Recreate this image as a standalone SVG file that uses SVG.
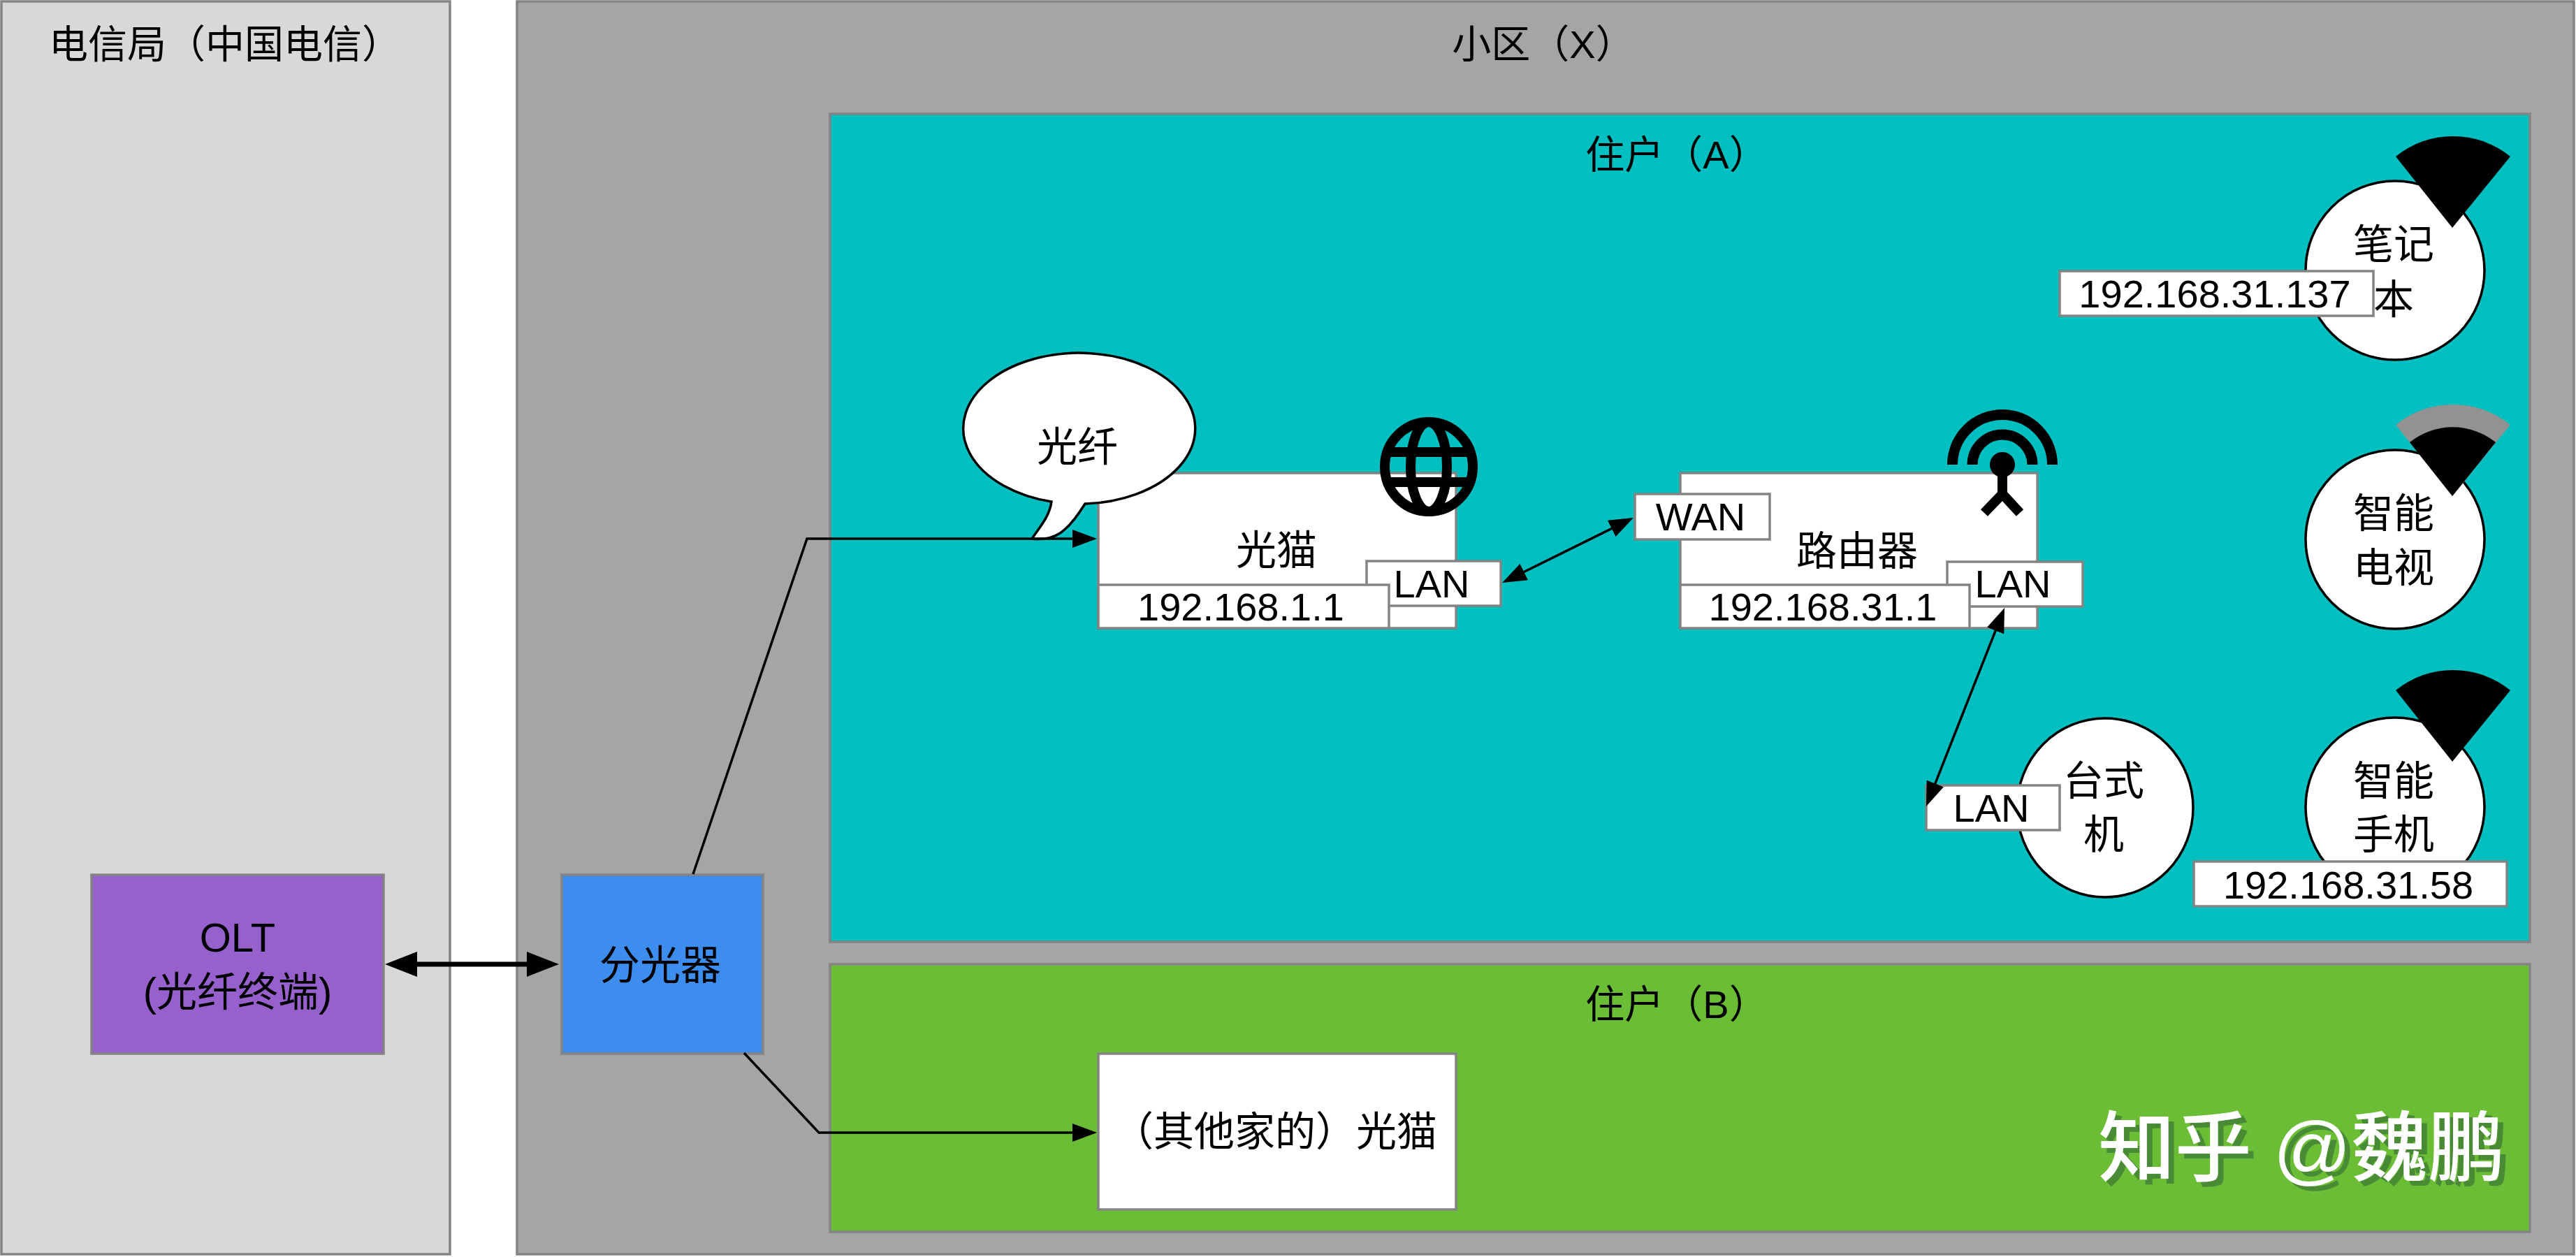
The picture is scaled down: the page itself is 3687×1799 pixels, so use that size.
<svg xmlns="http://www.w3.org/2000/svg" width="3687" height="1799" viewBox="0 0 3687 1799">
<style>
text{font-family:"Liberation Sans","Noto Sans CJK SC",sans-serif;font-size:58px;fill:#000;text-anchor:middle}
.l{font-size:56px}
.b{stroke:#848484;stroke-width:3.5}
.w{fill:#fff;stroke:#848484;stroke-width:3.5}
.e{fill:#fff;stroke:#000;stroke-width:3.5}
.c{fill:none;stroke:#000;stroke-width:3.5}
.arr{marker-end:url(#h)}
.k{fill:#000;stroke:none}
</style>
<defs>
<marker id="h" markerUnits="userSpaceOnUse" markerWidth="36" markerHeight="26" refX="30" refY="13" orient="auto-start-reverse"><path d="M0 0L35 13L0 26Z" fill="#000"/></marker>
<marker id="t" markerUnits="userSpaceOnUse" markerWidth="48" markerHeight="36" refX="36" refY="18" orient="auto-start-reverse"><path d="M0 0L46 18L0 36Z" fill="#000"/></marker>
<filter id="sh" x="-5%" y="-20%" width="110%" height="140%"><feDropShadow dx="8" dy="7" stdDeviation="0" flood-color="#4a8a35"/></filter>
</defs>
<rect width="3687" height="1799" fill="#fff"/>
<g id="telecom"><rect class="b" x="2" y="2" width="642" height="1793" fill="#d8d8d8"/><text class="l" x="322" y="83">电信局（中国电信）</text></g>
<g id="community"><rect class="b" x="740" y="2" width="2944" height="1793" fill="#a5a5a5"/><text class="l" x="2209" y="83">小区（X）</text></g>
<g id="home-a"><rect class="b" x="1188" y="163" width="2433" height="1185" fill="#00bfc0"/><text class="l" x="2400" y="241">住户（A）</text></g>
<g id="home-b"><rect class="b" x="1188" y="1380" width="2433" height="383" fill="#6abd35"/><text class="l" x="2400" y="1457">住户（B）</text></g>
<g id="olt"><rect class="b" x="131" y="1252" width="418" height="256" fill="#9661cc"/><text x="340" y="1362">OLT</text><text x="340" y="1440">(光纤终端)</text></g>
<g id="splitter"><rect class="b" x="804" y="1252" width="288" height="256" fill="#3c8dee"/><text x="945" y="1402">分光器</text></g>
<g id="modem-b"><rect class="w" x="1572" y="1508" width="512" height="223"/><text x="1825" y="1640">（其他家的）光猫</text></g>
<g id="modem">
<rect class="w" x="1572" y="677" width="512" height="222"/>
<text x="1827" y="808">光猫</text>
<rect class="w" x="1956" y="803" width="192" height="64"/><text class="l" x="2049" y="855">LAN</text>
<rect class="w" x="1572" y="837" width="416" height="62"/><text class="l" x="1776" y="888">192.168.1.1</text>
<g fill="none" stroke="#000" stroke-width="14"><ellipse cx="2045" cy="668" rx="63" ry="64"/><ellipse cx="2045" cy="668" rx="26" ry="64"/></g>
<rect class="k" x="1982" y="640" width="126" height="14"/><rect class="k" x="1982" y="683" width="126" height="14"/>
</g>
<g id="router">
<rect class="w" x="2405" y="677" width="511" height="222"/>
<text x="2658" y="809">路由器</text>
<rect class="w" x="2340" y="707" width="193" height="65"/><text class="l" x="2434" y="759">WAN</text>
<rect class="w" x="2787" y="804" width="194" height="64"/><text class="l" x="2881" y="855">LAN</text>
<rect class="w" x="2405" y="837" width="414" height="62"/><text class="l" x="2609" y="888">192.168.31.1</text>
<path d="M2794.500 665A71.500 71.500 0 0 1 2937.500 665M2823 665A43 43 0 0 1 2909 665" fill="none" stroke="#000" stroke-width="15"/>
<circle class="k" cx="2866" cy="665" r="18"/>
<path d="M2866 675V709M2840 734L2866 707L2891 734" fill="none" stroke="#000" stroke-width="14"/>
</g>
<g id="bubble">
<path class="e" d="M1553 721A166 108 0 1 0 1505 718C1502 739 1490 752 1477 771C1510 775 1528 761 1553 721Z"/>
<text x="1542" y="660">光纤</text>
</g>
<g id="laptop">
<ellipse class="e" cx="3428" cy="387" rx="128" ry="128"/>
<text x="3426" y="370">笔记</text><text x="3426" y="449">本</text>
<rect class="w" x="2948" y="388" width="449" height="64"/><text class="l" x="3170" y="440">192.168.31.137</text>
<path class="k" d="M3510 326L3429 224A130 130 0 0 1 3593 224Z"/>
</g>
<g id="tv">
<ellipse class="e" cx="3428" cy="772" rx="128" ry="128"/>
<text x="3426" y="755">智能</text><text x="3426" y="833">电视</text>
<path d="M3510 710L3429 608A130 130 0 0 1 3593 608Z" fill="#929292"/>
<path class="k" d="M3510 710L3449 633A98 98 0 0 1 3572 633Z"/>
</g>
<g id="desktop">
<ellipse class="e" cx="3013" cy="1156" rx="126" ry="128"/>
<text x="3011" y="1138">台式</text><text x="3011" y="1215">机</text>
<rect class="w" x="2757" y="1124" width="191" height="64"/><text class="l" x="2850" y="1176">LAN</text>
</g>
<g id="phone">
<ellipse class="e" cx="3428" cy="1155" rx="128" ry="128"/>
<text x="3426" y="1138">智能</text><text x="3426" y="1215">手机</text>
<rect class="w" x="3140" y="1233" width="448" height="64"/><text class="l" x="3361" y="1286">192.168.31.58</text>
<path class="k" d="M3510 1090L3429 988A130 130 0 0 1 3593 988Z"/>
</g>
<g id="connectors">
<path d="M561 1380H790" fill="none" stroke="#000" stroke-width="7" marker-start="url(#t)" marker-end="url(#t)"/>
<path class="c arr" d="M992 1251L1155 771H1565"/>
<path class="c arr" d="M1065 1507L1172 1621H1565"/>
<path class="c" d="M2154.500 831.800L2333.500 743.200" marker-start="url(#h)" marker-end="url(#h)"/>
<path class="c" d="M2867.200 874.700L2758.800 1149.300" marker-start="url(#h)" marker-end="url(#h)"/>
</g>
<g id="watermark">
<text x="3294" y="1682" filter="url(#sh)" style="font-size:110px;font-weight:500;fill:#fff">知乎 @魏鹏</text>
</g>
</svg>
